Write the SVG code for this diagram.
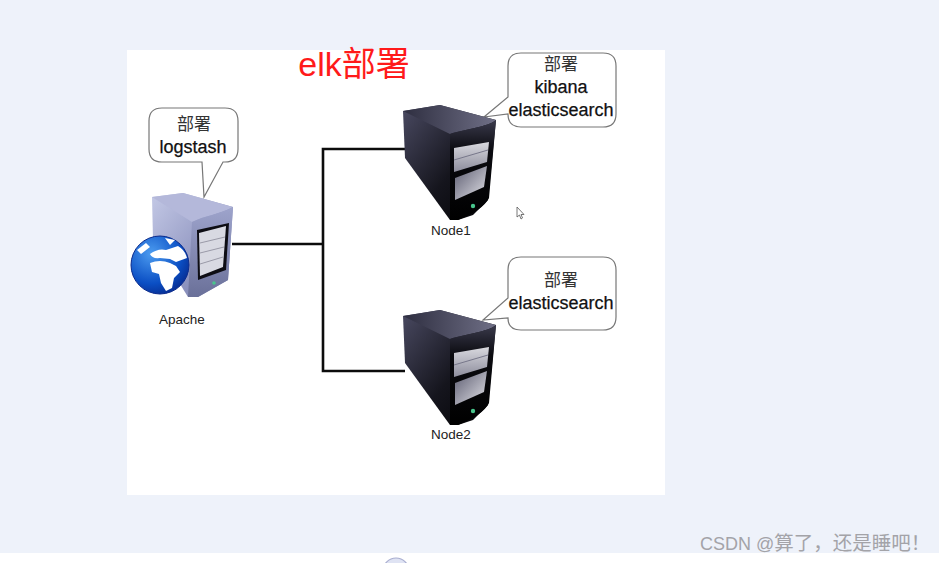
<svg xmlns="http://www.w3.org/2000/svg" xmlns:xlink="http://www.w3.org/1999/xlink" width="939" height="563" viewBox="0 0 939 563">
<style>
.t{font-family:"Liberation Sans","Noto Sans CJK SC",sans-serif;fill:#111;text-anchor:middle}
.b{font-size:18px;stroke:#111;stroke-width:.25}
.c{font-size:17px;fill:#333}
.n{font-size:13.5px;fill:#222}
.bub{fill:#fff;stroke:#777;stroke-width:1.2}
.link{fill:none;stroke:#0c0c0c;stroke-width:2.6}
</style>
<defs>
<linearGradient id="side" x1="0" y1="0" x2="1" y2="1"><stop offset="0" stop-color="#4a4a62"/><stop offset=".55" stop-color="#15151d"/><stop offset="1" stop-color="#020203"/></linearGradient>
<linearGradient id="top" x1="0" y1="0" x2="1" y2="0"><stop offset="0" stop-color="#2e2e40"/><stop offset="1" stop-color="#6f6f86"/></linearGradient>
<linearGradient id="front" x1="0" y1="0" x2="0" y2="1"><stop offset="0" stop-color="#3a3a4c"/><stop offset=".3" stop-color="#0b0b10"/><stop offset="1" stop-color="#000"/></linearGradient>
<linearGradient id="p1" x1="0" y1="0" x2="0" y2="1"><stop offset="0" stop-color="#d9d9df"/><stop offset="1" stop-color="#8d8d9c"/></linearGradient>
<linearGradient id="p2" x1="0" y1="0" x2="1" y2="1"><stop offset="0" stop-color="#5c5c70"/><stop offset="1" stop-color="#e2e2e8"/></linearGradient>
<linearGradient id="aSide" x1="0" y1="0" x2="1" y2="1"><stop offset="0" stop-color="#c4c9e6"/><stop offset="1" stop-color="#6f75a8"/></linearGradient>
<linearGradient id="aFront" x1="0" y1="0" x2="0" y2="1"><stop offset="0" stop-color="#9ea4cc"/><stop offset="1" stop-color="#6a7099"/></linearGradient>
<radialGradient id="globe" cx=".35" cy=".3" r=".8"><stop offset="0" stop-color="#4c9cf0"/><stop offset=".65" stop-color="#0b4fc4"/><stop offset="1" stop-color="#06278a"/></radialGradient>
<g id="server">
<path d="M403 111L440 105L496 120L488 200L473 215L458 220L450 220L405 158Z" fill="url(#side)"/>
<path d="M403 111L440 105L496 120C488 127 465 129 450 134Z" fill="url(#top)"/>
<path d="M450 134C465 129 488 127 496 120L489 198Q483 210 458 220L450 220Z" fill="url(#front)"/>
<path d="M454 148L489 142L487 162L454 172Z" fill="url(#p1)"/>
<path d="M454 160L488 150" stroke="#77778a" stroke-width="1" fill="none"/>
<path d="M455 178L487 166L484 187L455 200Z" fill="url(#p2)"/>
<circle cx="473" cy="206" r="2.2" fill="#48c58c"/>
</g>
</defs>
<rect width="939" height="563" fill="#eef2fa"/>
<rect y="553" width="939" height="10" fill="#fff"/>
<circle cx="396" cy="571" r="13" fill="#dfe3f3" stroke="#a9aed0" stroke-width="1.2"/>
<rect x="127" y="50" width="538" height="445" fill="#fff"/>

<g id="connectors">
<path class="link" d="M232 244H323"/>
<path class="link" d="M405 149H323V371H405"/>
</g>

<g id="title"><text x="354" y="76" font-size="34" style="font-family:'Liberation Sans','Noto Sans CJK SC',sans-serif;fill:#ff1a1a;text-anchor:middle">elk部署</text></g>

<g id="apache">
<path class="bub" d="M162 108H225Q238 108 238 121V149Q238 162 225 162H223L204 197L202 162H162Q149 162 149 149V121Q149 108 162 108Z"/>
<text class="t c" x="194" y="130">部署</text>
<text class="t b" x="193" y="153">logstash</text>
<path d="M152 197L183 193L233 207L228 280L198 297L188 297L153 240Z" fill="url(#aSide)"/>
<path d="M152 197L183 193L233 207C220 214 204 216 192 222Z" fill="#b4b8da"/>
<path d="M192 222C204 216 220 214 233 207L228 280L198 297L188 297Z" fill="url(#aFront)"/>
<path d="M197 230L229 223L226 270L198 280Z" fill="#0d0d14"/>
<path d="M199 233L226 226L223 267L200 276Z" fill="#d8d9e2"/>
<path d="M200 243L225 237M200 253L224 247M200 264L223 257" stroke="#9a9aa8" stroke-width="1" fill="none"/>
<circle cx="214" cy="283" r="1.8" fill="#48c58c"/>
<circle cx="160" cy="265" r="29" fill="url(#globe)" stroke="#0a2a8c" stroke-width="1"/>
<path d="M150 254Q158 248 166 250L178 246Q185 250 187 258L176 262L170 259L160 258Q152 259 150 254Z" fill="#fff"/>
<path d="M150 263Q160 259 170 263L176 266L180 272L174 278L172 288L166 291L161 283L159 274L152 272Z" fill="#fff"/>
<path d="M137 250L146 243L150 247L141 254Z" fill="#fff"/>
<path d="M165 238L175 240L170 245Z" fill="#fff"/>
<text class="t n" x="182" y="324">Apache</text>
</g>

<g id="node1">
<path class="bub" d="M521 53H603Q616 53 616 66V114Q616 127 603 127H521Q508 127 508 114L484 117L508 97V66Q508 53 521 53Z"/>
<text class="t c" x="561" y="70">部署</text>
<text class="t b" x="561" y="93">kibana</text>
<text class="t b" x="561" y="116">elasticsearch</text>
<use xlink:href="#server" href="#server"/>
<text class="t n" x="451" y="235">Node1</text>
</g>

<g id="node2">
<path class="bub" d="M521 257H603Q616 257 616 270V317Q616 330 603 330H521Q508 330 508 318L483 320L508 298V270Q508 257 521 257Z"/>
<text class="t c" x="561" y="286">部署</text>
<text class="t b" x="561" y="309">elasticsearch</text>
<use xlink:href="#server" href="#server" y="205"/>
<text class="t n" x="451" y="439">Node2</text>
</g>

<path d="M517 207V217L519.500 215L521 219L522.500 218L521 214.500L524 214.500Z" fill="#fff" stroke="#555" stroke-width=".8"/>

<g id="watermark"><text x="700" y="550" style="font-family:'Liberation Sans','Noto Sans CJK SC',sans-serif;fill:#a3a3a8"><tspan font-size="18">CSDN @</tspan><tspan font-size="19.500">算了，还是睡吧！</tspan></text></g>
</svg>
